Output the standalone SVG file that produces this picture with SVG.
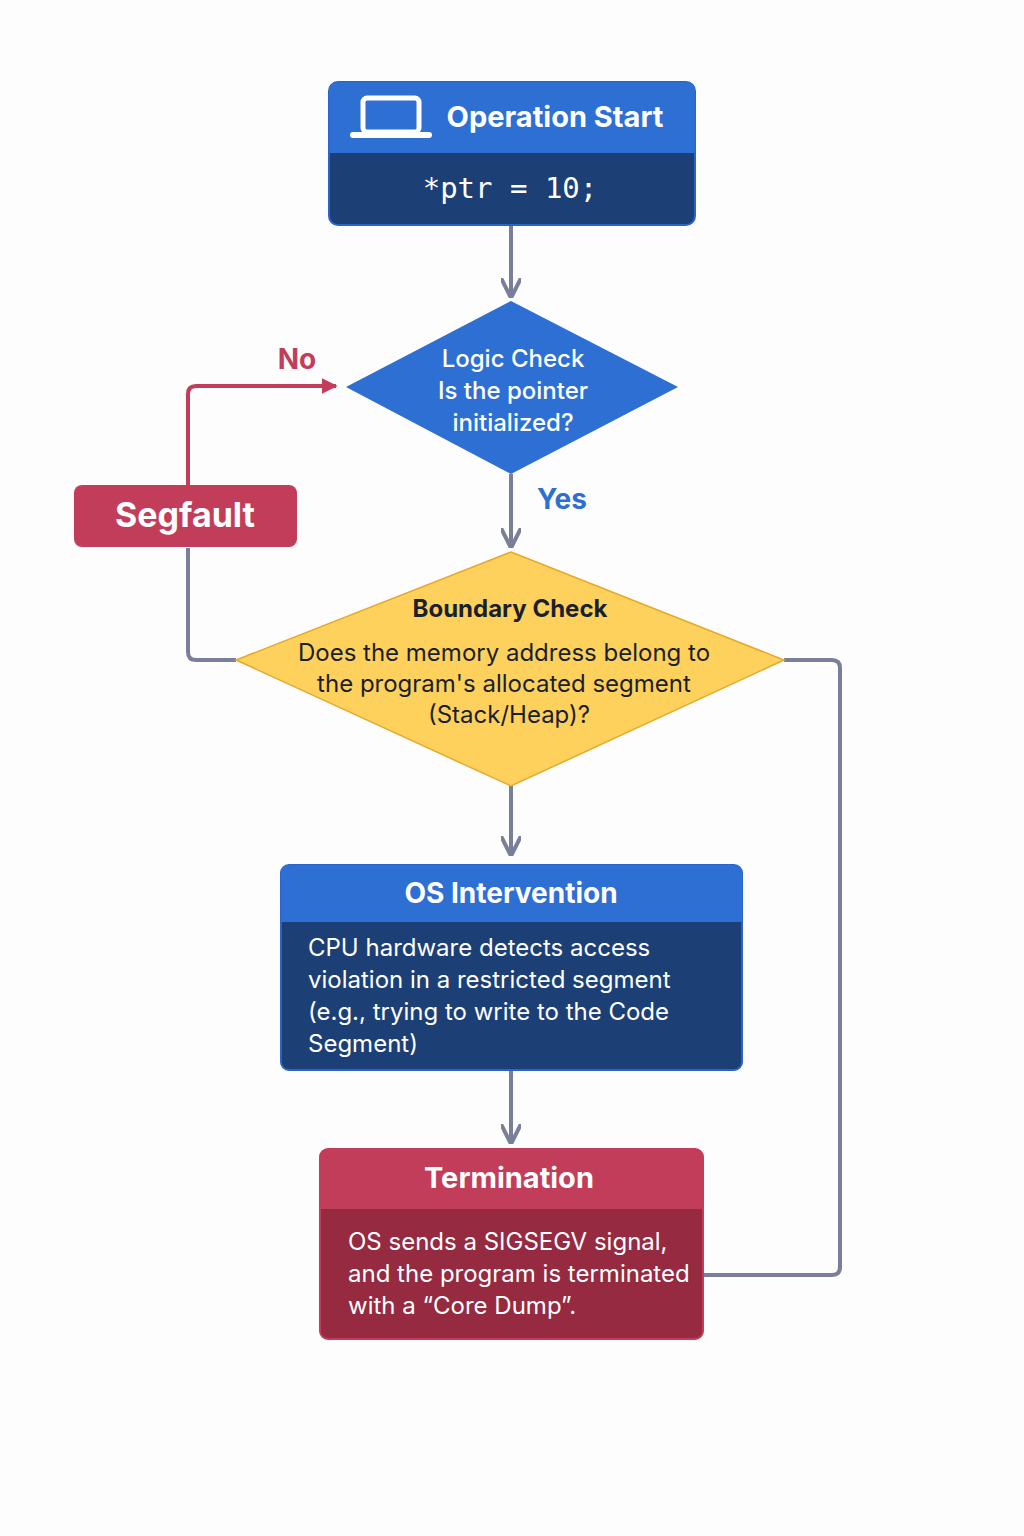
<svg xmlns="http://www.w3.org/2000/svg" width="1024" height="1536" viewBox="0 0 1024 1536">
<style>
text{font-family:"Inter","Liberation Sans",sans-serif;}
.w{fill:#fff}
.gl{fill:none;stroke:#7a7f99;stroke-width:4;}
.rl{fill:none;stroke:#c23d5a;stroke-width:4;}
</style>
<defs>
<marker id="ag" viewBox="0 0 10 10" refX="8" refY="5" markerWidth="5" markerHeight="5" orient="auto"><path d="M0,0 L10,5 L0,10" fill="none" stroke="#7a7f99" stroke-width="2"/></marker>
<marker id="ar" viewBox="0 0 10 10" refX="9" refY="5" markerWidth="4" markerHeight="4" orient="auto"><path d="M0,0 L10,5 L0,10 z" fill="#c23d5a"/></marker>
</defs>
<rect width="1024" height="1536" fill="#fdfdfe"/>
<g id="connectors">
<path class="gl" d="M511,226 V294" marker-end="url(#ag)"/>
<path class="gl" d="M511,474 V544" marker-end="url(#ag)"/>
<path class="gl" d="M511,786 V852" marker-end="url(#ag)"/>
<path class="gl" d="M511,1070 V1140" marker-end="url(#ag)"/>
<path class="rl" d="M188,486 V394 Q188,386 196,386 H336" marker-end="url(#ar)"/>
<path class="gl" d="M188,548 V652 Q188,660 196,660 H236"/>
<path class="gl" d="M784,660 H832 Q840,660 840,668 V1267 Q840,1275 832,1275 H704"/>
<text x="297" y="369" font-size="28" font-weight="700" fill="#c23d5a" text-anchor="middle">No</text>
<text x="562" y="509" font-size="28" font-weight="700" fill="#2d6fd2" text-anchor="middle">Yes</text>
</g>
<g id="start">
<rect x="329" y="82" width="366" height="143" rx="9" fill="#1c3f76" stroke="#2a63c9" stroke-width="2"/>
<path d="M338,82 H686 Q695,82 695,91 V153 H329 V91 Q329,82 338,82 Z" fill="#2e6fd4"/>
<rect x="363" y="98" width="56" height="34" rx="4" fill="#2e6fd4" stroke="#fff" stroke-width="5"/>
<rect x="350" y="132" width="82" height="6" rx="3" class="w"/>
<text x="555" y="127" font-size="29" font-weight="700" class="w" text-anchor="middle">Operation Start</text>
<text x="510" y="198" font-size="29" class="w" text-anchor="middle" font-family="DejaVu Sans Mono,monospace" style="font-family:'DejaVu Sans Mono',monospace">*ptr = 10;</text>
</g>
<g id="logic">
<polygon points="511,301 678,387 511,474 346,387" fill="#2e6fd4"/>
<text x="513" y="367" font-size="24" font-weight="500" class="w" text-anchor="middle">Logic Check</text>
<text x="513" y="399" font-size="24" font-weight="500" class="w" text-anchor="middle">Is the pointer</text>
<text x="513" y="431" font-size="24" font-weight="500" class="w" text-anchor="middle">initialized?</text>
</g>
<g id="segfault">
<rect x="74" y="485" width="223" height="62" rx="8" fill="#c23d5a"/>
<text x="185" y="527" font-size="34" font-weight="700" class="w" text-anchor="middle">Segfault</text>
</g>
<g id="boundary">
<polygon points="511,552 784,660 511,786 236,660" fill="#fdd15c" stroke="#e6a92a" stroke-width="1.5"/>
<text x="510" y="617" font-size="24" font-weight="700" fill="#1a1f2e" text-anchor="middle">Boundary Check</text>
<text x="504" y="661" font-size="24" fill="#1a1f2e" text-anchor="middle">Does the memory address belong to</text>
<text x="504" y="692" font-size="24" fill="#1a1f2e" text-anchor="middle">the program's allocated segment</text>
<text x="509" y="723" font-size="24" fill="#1a1f2e" text-anchor="middle">(Stack/Heap)?</text>
</g>
<g id="os">
<rect x="281" y="865" width="461" height="205" rx="8" fill="#1c3f76" stroke="#2a63c9" stroke-width="2"/>
<path d="M289,865 H734 Q742,865 742,873 V922 H281 V873 Q281,865 289,865 Z" fill="#2e6fd4"/>
<text x="511" y="903" font-size="28" font-weight="700" class="w" text-anchor="middle">OS Intervention</text>
<text x="308" y="956" font-size="24" class="w">CPU hardware detects access</text>
<text x="308" y="988" font-size="24" class="w">violation in a restricted segment</text>
<text x="308" y="1020" font-size="24" class="w">(e.g., trying to write to the Code</text>
<text x="308" y="1052" font-size="24" class="w">Segment)</text>
</g>
<g id="termination">
<rect x="320" y="1149" width="383" height="190" rx="8" fill="#952a40" stroke="#c23d5a" stroke-width="2"/>
<path d="M328,1149 H695 Q703,1149 703,1157 V1209 H320 V1157 Q320,1149 328,1149 Z" fill="#c23d5a"/>
<text x="509" y="1188" font-size="29" font-weight="700" class="w" text-anchor="middle">Termination</text>
<text x="348" y="1250" font-size="24" class="w">OS sends a SIGSEGV signal,</text>
<text x="348" y="1282" font-size="24" class="w">and the program is terminated</text>
<text x="348" y="1314" font-size="24" class="w">with a “Core Dump”.</text>
</g>
</svg>
